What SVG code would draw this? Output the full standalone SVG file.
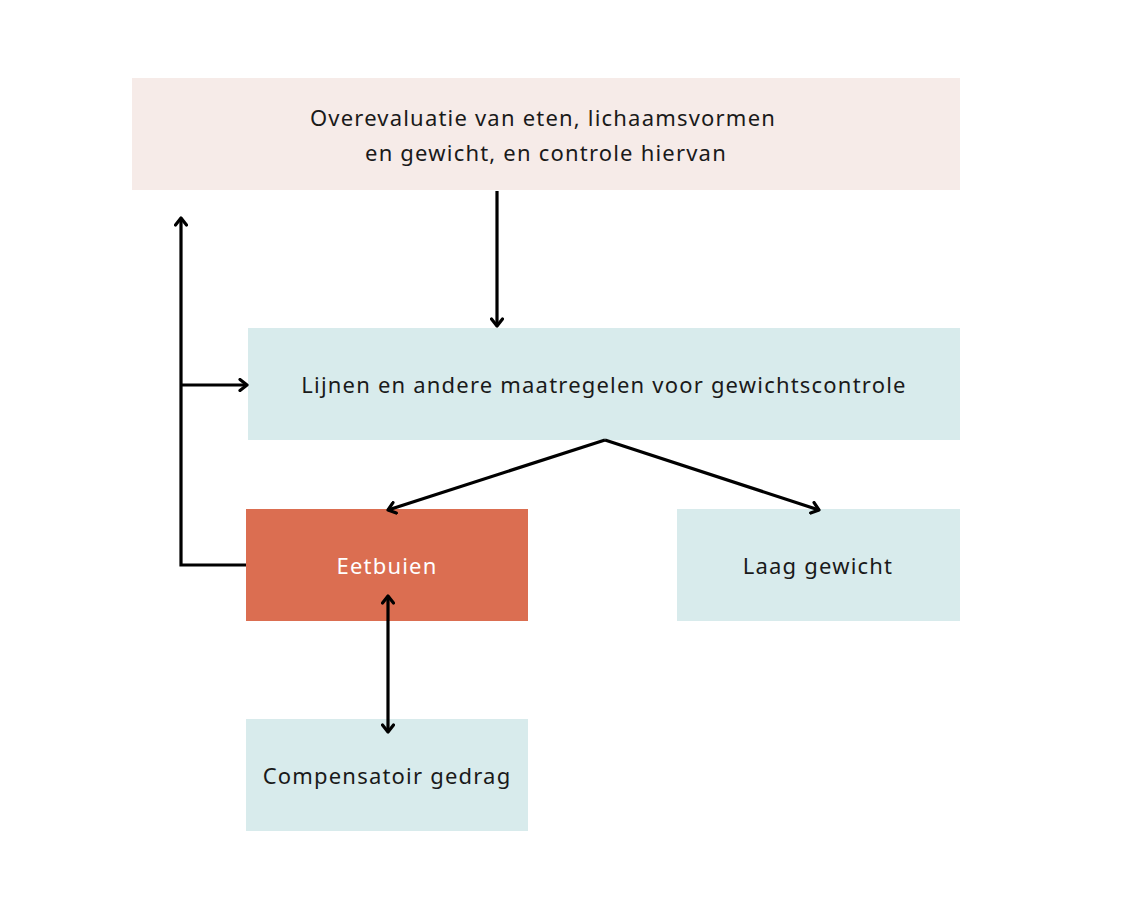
<svg xmlns="http://www.w3.org/2000/svg" width="1142" height="906" viewBox="0 0 1142 906">
<style>
.lbl{font-family:"Noto Sans","Open Sans",sans-serif;font-size:22px;letter-spacing:1.2px;fill:#1a1a1a;text-anchor:middle;dominant-baseline:central}
.w{fill:#ffffff}
.c{fill:none;stroke:#000;stroke-width:3.2}
.blue{fill:#d8ebec}
</style>
<defs>
<marker id="ah" viewBox="0 0 12 14" refX="10" refY="7" markerWidth="12" markerHeight="14" markerUnits="userSpaceOnUse" orient="auto-start-reverse">
<path d="M3,1.5 L10,7 L3,12.5" fill="none" stroke="#000" stroke-width="3.2" stroke-linecap="round" stroke-linejoin="round"/>
</marker>
</defs>
<rect width="1142" height="906" fill="#ffffff"/>
<g id="node-overevaluatie">
<rect x="132" y="78" width="828" height="112" fill="#f6ebe8"/>
<text class="lbl" x="543" y="117">Overevaluatie van eten, lichaamsvormen</text>
<text class="lbl" x="546" y="152">en gewicht, en controle hiervan</text>
</g>
<g id="node-lijnen">
<rect class="blue" x="248" y="328" width="712" height="112"/>
<text class="lbl" x="604" y="384">Lijnen en andere maatregelen voor gewichtscontrole</text>
</g>
<g id="node-eetbuien">
<rect x="246" y="509" width="282" height="112" fill="#db6e51"/>
<text class="lbl w" x="387" y="565">Eetbuien</text>
</g>
<g id="node-laag">
<rect class="blue" x="677" y="509" width="283" height="112"/>
<text class="lbl" x="818" y="565">Laag gewicht</text>
</g>
<g id="node-compensatoir">
<rect class="blue" x="246" y="719" width="282" height="112"/>
<text class="lbl" x="387" y="775">Compensatoir gedrag</text>
</g>
<g id="connectors">
<line class="c" x1="497" y1="191" x2="497" y2="326" marker-end="url(#ah)"/>
<polyline class="c" points="246,565 181,565 181,218" marker-end="url(#ah)"/>
<line class="c" x1="181" y1="385" x2="247" y2="385" marker-end="url(#ah)"/>
<line class="c" x1="605" y1="440" x2="388" y2="510" marker-end="url(#ah)"/>
<line class="c" x1="605" y1="440" x2="819" y2="510" marker-end="url(#ah)"/>
<line class="c" x1="388" y1="596" x2="388" y2="732" marker-start="url(#ah)" marker-end="url(#ah)"/>
</g>
</svg>
